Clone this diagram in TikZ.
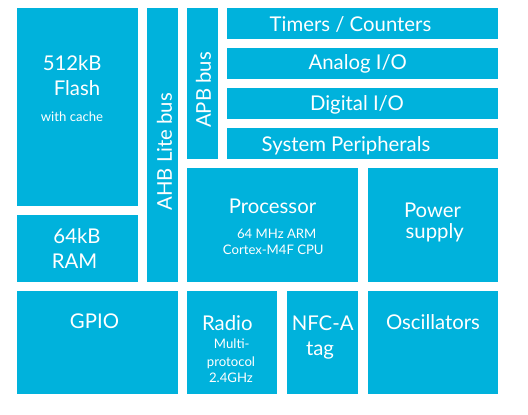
\documentclass[tikz,border=0pt]{standalone}
\usepackage{fontspec}
\setmainfont{Lato}
\definecolor{nblue}{RGB}{0,178,220}
\begin{document}
\begin{tikzpicture}[x=1bp,y=-1bp,
  box/.style={fill=nblue,draw=none,inner sep=0pt,outer sep=0pt,anchor=north west,rectangle},
  big/.style={text=white,inner sep=0pt,anchor=base,font=\fontsize{20.4}{24}\selectfont},
  small/.style={text=white,inner sep=0pt,anchor=base,font=\fontsize{13.2}{15}\selectfont},
  bus/.style={text=white,inner sep=0pt,rotate=90,anchor=center,font=\fontsize{20.4}{24}\selectfont}]
\useasboundingbox (0,0) rectangle (528,414);
% boxes
\node[box,minimum width=121bp,minimum height=197.5bp] (flash) at (17,8) {};
\node[box,minimum width=31bp,minimum height=273.7bp] (ahb) at (147,8) {};
\node[box,minimum width=31bp,minimum height=150.7bp] (apb) at (187,8) {};
\node[box,minimum width=271bp,minimum height=30.7bp] (timers) at (227,8) {};
\node[box,minimum width=271bp,minimum height=30.7bp] (analog) at (227,48) {};
\node[box,minimum width=271bp,minimum height=30.7bp] (digital) at (227,88) {};
\node[box,minimum width=271bp,minimum height=30.7bp] (sysper) at (227,128) {};
\node[box,minimum width=171bp,minimum height=113.7bp] (proc) at (187,168) {};
\node[box,minimum width=130bp,minimum height=113.7bp] (power) at (368,168) {};
\node[box,minimum width=121bp,minimum height=66.7bp] (ram) at (17,215) {};
\node[box,minimum width=161bp,minimum height=102.7bp] (gpio) at (17,291) {};
\node[box,minimum width=90bp,minimum height=102.7bp] (radio) at (187,291) {};
\node[box,minimum width=71bp,minimum height=102.7bp] (nfc) at (287,291) {};
\node[box,minimum width=130bp,minimum height=102.7bp] (osc) at (368,291) {};
% texts
\node[big] (t512) at (72.2,70) {512kB};
\node[big] (tflash) at (77,95) {Flash};
\node[small] (tcache) at (72,121.7) {with cache};
\node[bus] (tahb) at (164.5,151.7) {AHB Lite bus};
\node[bus] (tapb) at (203.5,90) {APB bus};
\node[big] (ttimers) at (350.5,31) {Timers / Counters};
\node[big] (tanalog) at (357.7,69.5) {Analog I/O};
\node[big] (tdigital) at (357,110.3) {Digital I/O};
\node[big] (tsys) at (346,151.7) {System Peripherals};
\node[big] (tproc) at (272.5,213.3) {Processor};
\node[small] (tmhz) at (276.7,238.3) {64 MHz ARM};
\node[small] (tcortex) at (273.3,254.3) {Cortex-M4F CPU};
\node[big] (tpower) at (432.5,217.3) {Power};
\node[big] (tsupply) at (434.7,238.3) {supply};
\node[big] (t64) at (77,243.7) {64kB};
\node[big] (tram) at (74.5,268.7) {RAM};
\node[big] (tgpio) at (94.5,328.7) {GPIO};
\node[big] (tradio) at (227.3,330.3) {Radio};
\node[small] (tmulti) at (231.7,348.7) {Multi-};
\node[small] (tproto) at (231,366) {protocol};
\node[small] (tghz) at (231,382) {2.4GHz};
\node[big] (tnfc) at (322.7,330.3) {NFC-A};
\node[big] (ttag) at (320,355.3) {tag};
\node[big] (tosc) at (433,329.3) {Oscillators};
\end{tikzpicture}
\end{document}
